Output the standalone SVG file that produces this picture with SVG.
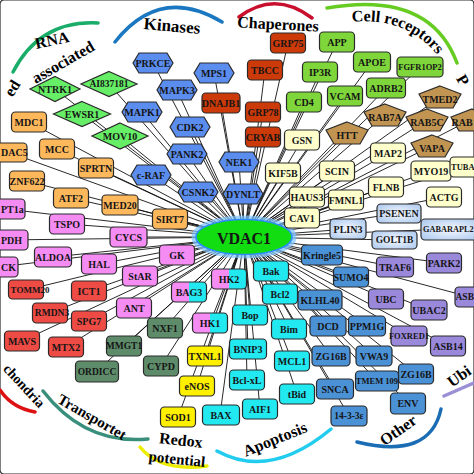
<svg xmlns="http://www.w3.org/2000/svg" xmlns:xlink="http://www.w3.org/1999/xlink" width="474" height="474" viewBox="0 0 474 474">
<style>
text{font-family:"Liberation Serif","Times New Roman",serif;font-weight:bold;font-size:10px;text-anchor:middle;dominant-baseline:central;fill:#151515}
.lab{font-size:16px;fill:#000}
.arc{fill:none;stroke-width:3.5;stroke-linecap:round}
rect,use,polygon{stroke:#2a2a2a;stroke-width:1.2}
rect{rx:4px;ry:4px}
.kin{fill:#5b8def}
.chp{fill:#cc3a0a}
.rec{fill:#7ed63a}
.rna{fill:#66ee66}
.org{fill:#fdb85c}
.pnk{fill:#f48cf4}
.red{fill:#ef4b45}
.gry{fill:#5e8c6a}
.yel{fill:#fff000}
.cyn{fill:#22e8f0}
.stl{fill:#4b91d6}
.lav{fill:#9a88db}
.ply{fill:#ffffcc}
.plb{fill:url(#pb)}
.brn{fill:#c19452}
.hlf{fill:url(#pc)}
#edges line{stroke:#111;stroke-width:0.9}
</style>
<defs>
<polygon id="hex" points="-20,0 -14,-10 14,-10 20,0 14,10 -14,10"/>
<polygon id="pent" points="0,-11 21,-3 13,11 -13,11 -21,-3"/>
<radialGradient id="pb" cx="0.5" cy="0.5" r="0.6"><stop offset="0" stop-color="#f6f9ff"/><stop offset="1" stop-color="#b3cdf0"/></radialGradient>
<linearGradient id="pc" x1="0" y1="0" x2="1" y2="0"><stop offset="0.5" stop-color="#f48cf4"/><stop offset="0.5" stop-color="#22e8f0"/></linearGradient>
<path id="pCR" d="M352,22 Q 412,16 444,64"/>
</defs>
<rect x="0" y="0" width="474" height="474" fill="#fff" stroke="none" rx="0" ry="0"/>

<g id="arcs">
<path class="arc" stroke="#1aad6a" d="M13,72 Q 40,20 98,23"/>
<path class="arc" stroke="#1b78c0" d="M115,42 Q 160,-15 222,22"/>
<path class="arc" stroke="#c8102e" d="M239,17 Q 275,-10 312,18"/>
<path class="arc" stroke="#66cc22" d="M327,8 Q 430,-10 457,63"/>
<path class="arc" stroke="#9b8fd6" d="M444,396 Q 460,389 476,382"/>
<path class="arc" stroke="#1a6db5" d="M357,442 Q 430,460 441,409"/>
<path class="arc" stroke="#22ccee" d="M217,451 Q 270,480 331,429"/>
<path class="arc" stroke="#eeee00" d="M140,447 Q 160,472 207,466"/>
<path class="arc" stroke="#3a8f7c" d="M43,391 Q 85,445 148,439"/>
<path class="arc" stroke="#dd1111" d="M0,390 Q 12,408 35,412"/>
</g>
<g id="labels">
<text class="lab" x="12" y="88" transform="rotate(-58 12 88)">ed</text>
<text class="lab" x="52" y="40" transform="rotate(-12 52 40)">RNA</text>
<text class="lab" x="63" y="62" transform="rotate(-30 63 62)">associated</text>
<text class="lab" x="172" y="26" style="font-size:17px" transform="rotate(5 172 26)">Kinases</text>
<text class="lab" x="278" y="24" transform="rotate(3 278 24)">Chaperones</text>
<text class="lab" style="dominant-baseline:auto;text-anchor:start"><textPath href="#pCR" xlink:href="#pCR">Cell receptors</textPath></text>
<text class="lab" x="463" y="80" transform="rotate(60 463 80)">P</text>
<text class="lab" x="459" y="376" transform="rotate(-35 459 376)">Ubi</text>
<text class="lab" x="398" y="430" transform="rotate(-35 398 430)">Other</text>
<text class="lab" x="275" y="439" transform="rotate(-22 275 439)">Apoptosis</text>
<text class="lab" x="181" y="440" transform="rotate(6 181 440)">Redox</text>
<text class="lab" x="177" y="459" style="font-size:15px" transform="rotate(6 177 459)">potential</text>
<text class="lab" x="92" y="417" style="font-size:15px" transform="rotate(30 92 417)">Transportet</text>
<text class="lab" x="24" y="386" style="font-size:14px" transform="rotate(47 24 386)">chondria</text>
</g>

<g id="edges">
<line x1="153" y1="63" x2="244" y2="237"/><line x1="214" y1="73" x2="244" y2="237"/><line x1="177" y1="90" x2="244" y2="237"/><line x1="142" y1="112" x2="244" y2="237"/><line x1="190" y1="127" x2="244" y2="237"/><line x1="187" y1="154" x2="244" y2="237"/><line x1="151" y1="175" x2="244" y2="237"/><line x1="239" y1="162" x2="244" y2="237"/><line x1="198" y1="192" x2="244" y2="237"/><line x1="243" y1="194" x2="244" y2="237"/>
<line x1="288" y1="43" x2="244" y2="237"/><line x1="265" y1="70" x2="244" y2="237"/><line x1="221" y1="103" x2="244" y2="237"/><line x1="263" y1="112" x2="244" y2="237"/><line x1="263" y1="137" x2="244" y2="237"/>
<line x1="337" y1="42" x2="244" y2="237"/><line x1="320" y1="72" x2="244" y2="237"/><line x1="372" y1="62" x2="244" y2="237"/><line x1="420" y1="67" x2="244" y2="237"/><line x1="386" y1="88" x2="244" y2="237"/><line x1="345" y1="96" x2="244" y2="237"/><line x1="304" y1="102" x2="244" y2="237"/>
<line x1="347" y1="133" x2="244" y2="237"/><line x1="385" y1="115" x2="244" y2="237"/><line x1="427" y1="120" x2="244" y2="237"/><line x1="440" y1="97" x2="244" y2="237"/><line x1="470" y1="120" x2="244" y2="237"/><line x1="432" y1="146" x2="244" y2="237"/>
<line x1="302" y1="140" x2="244" y2="237"/><line x1="283" y1="173" x2="244" y2="237"/><line x1="307" y1="197" x2="244" y2="237"/><line x1="302" y1="218" x2="244" y2="237"/><line x1="337" y1="171" x2="244" y2="237"/><line x1="388" y1="153" x2="244" y2="237"/><line x1="346" y1="200" x2="244" y2="237"/><line x1="386" y1="187" x2="244" y2="237"/><line x1="431" y1="171" x2="244" y2="237"/><line x1="444" y1="197" x2="244" y2="237"/><line x1="465" y1="167" x2="244" y2="237"/>
<line x1="399" y1="213" x2="244" y2="237"/><line x1="348" y1="229" x2="244" y2="237"/><line x1="394" y1="240" x2="244" y2="237"/><line x1="450" y1="229" x2="244" y2="237"/>
<line x1="322" y1="255" x2="244" y2="237"/><line x1="351" y1="277" x2="244" y2="237"/><line x1="320" y1="300" x2="244" y2="237"/><line x1="328" y1="326" x2="244" y2="237"/><line x1="367" y1="326" x2="244" y2="237"/><line x1="331" y1="356" x2="244" y2="237"/><line x1="374" y1="356" x2="244" y2="237"/><line x1="416" y1="374" x2="244" y2="237"/><line x1="377" y1="381" x2="244" y2="237"/><line x1="335" y1="389" x2="244" y2="237"/><line x1="408" y1="403" x2="244" y2="237"/><line x1="349" y1="416" x2="244" y2="237"/>
<line x1="395" y1="267" x2="244" y2="237"/><line x1="444" y1="263" x2="244" y2="237"/><line x1="386" y1="299" x2="244" y2="237"/><line x1="429" y1="310" x2="244" y2="237"/><line x1="470" y1="297" x2="244" y2="237"/><line x1="409" y1="336" x2="244" y2="237"/><line x1="448" y1="346" x2="244" y2="237"/>
<line x1="29" y1="122" x2="244" y2="237"/><line x1="57" y1="149" x2="244" y2="237"/><line x1="8" y1="152" x2="244" y2="237"/><line x1="96" y1="168" x2="244" y2="237"/><line x1="27" y1="181" x2="244" y2="237"/><line x1="71" y1="198" x2="244" y2="237"/><line x1="120" y1="205" x2="244" y2="237"/><line x1="170" y1="219" x2="244" y2="237"/>
<line x1="55" y1="89" x2="244" y2="237"/><line x1="109" y1="84" x2="244" y2="237"/><line x1="82" y1="114" x2="244" y2="237"/><line x1="120" y1="136" x2="244" y2="237"/>
<line x1="6" y1="209" x2="244" y2="237"/><line x1="67" y1="224" x2="244" y2="237"/><line x1="3" y1="240" x2="244" y2="237"/><line x1="128" y1="237" x2="244" y2="237"/><line x1="53" y1="257" x2="244" y2="237"/><line x1="99" y1="264" x2="244" y2="237"/><line x1="-1" y1="267" x2="244" y2="237"/><line x1="177" y1="255" x2="244" y2="237"/><line x1="140" y1="276" x2="244" y2="237"/><line x1="134" y1="308" x2="244" y2="237"/>
<line x1="26" y1="290" x2="244" y2="237"/><line x1="89" y1="291" x2="244" y2="237"/><line x1="50" y1="313" x2="244" y2="237"/><line x1="89" y1="321" x2="244" y2="237"/><line x1="22" y1="341" x2="244" y2="237"/><line x1="66" y1="347" x2="244" y2="237"/>
<line x1="165" y1="328" x2="244" y2="237"/><line x1="124" y1="346" x2="244" y2="237"/><line x1="97" y1="371" x2="244" y2="237"/><line x1="161" y1="366" x2="244" y2="237"/>
<line x1="205" y1="356" x2="244" y2="237"/><line x1="197" y1="386" x2="244" y2="237"/><line x1="178" y1="417" x2="244" y2="237"/>
<line x1="271" y1="271" x2="244" y2="237"/><line x1="280" y1="294" x2="244" y2="237"/><line x1="250" y1="315" x2="244" y2="237"/><line x1="289" y1="329" x2="244" y2="237"/><line x1="248" y1="349" x2="244" y2="237"/><line x1="292" y1="361" x2="244" y2="237"/><line x1="247" y1="380" x2="244" y2="237"/><line x1="297" y1="394" x2="244" y2="237"/><line x1="260" y1="409" x2="244" y2="237"/><line x1="220" y1="415" x2="244" y2="237"/>
<line x1="229" y1="279" x2="244" y2="237"/><line x1="189" y1="292" x2="244" y2="237"/><line x1="210" y1="323" x2="244" y2="237"/>
</g>

<g id="VDAC1">
<ellipse cx="244" cy="237" rx="50" ry="19" fill="none" stroke="#7fc4ff" stroke-width="5" opacity="0.7"/>
<ellipse cx="244" cy="237" rx="48" ry="17.5" fill="#11dd11" stroke="#2a8cff" stroke-width="1.5"/>
<text x="244" y="238" style="font-size:16px">VDAC1</text>
</g>

<!-- Kinases -->
<g id="PRKCE"><use href="#hex" x="153" y="63" class="kin"/><text x="153" y="63">PRKCE</text></g>
<g id="MPS1"><use href="#hex" x="214" y="73" class="kin"/><text x="214" y="73">MPS1</text></g>
<g id="MAPK3"><use href="#hex" x="177" y="90" class="kin"/><text x="177" y="90">MAPK3</text></g>
<g id="MAPK1"><use href="#hex" x="142" y="112" class="kin"/><text x="142" y="112">MAPK1</text></g>
<g id="CDK2"><use href="#hex" x="190" y="127" class="kin"/><text x="190" y="127">CDK2</text></g>
<g id="PANK2"><use href="#hex" x="187" y="154" class="kin"/><text x="187" y="154">PANK2</text></g>
<g id="c-RAF"><use href="#hex" x="151" y="175" class="kin"/><text x="151" y="175">c-RAF</text></g>
<g id="NEK1"><use href="#hex" x="239" y="162" class="kin"/><text x="239" y="162">NEK1</text></g>
<g id="CSNK2"><use href="#hex" x="198" y="192" class="kin"/><text x="198" y="192">CSNK2</text></g>
<g id="DYNLT"><use href="#hex" x="243" y="194" class="kin"/><text x="243" y="194">DYNLT</text></g>

<!-- Chaperones -->
<g id="GRP75"><rect class="chp" x="270.5" y="33" width="35" height="20"/><text x="288" y="43">GRP75</text></g>
<g id="TBCC"><rect class="chp" x="247.5" y="60" width="35" height="20"/><text x="265" y="70">TBCC</text></g>
<g id="DNAJB1"><rect class="chp" x="202" y="93" width="38" height="20"/><text x="221" y="103">DNAJB1</text></g>
<g id="GRP78"><rect class="chp" x="245.5" y="102" width="35" height="20"/><text x="263" y="112">GRP78</text></g>
<g id="CRYAB"><rect class="chp" x="245.5" y="127" width="35" height="20"/><text x="263" y="137">CRYAB</text></g>

<!-- Cell receptors -->
<g id="APP"><rect class="rec" x="319.5" y="32" width="35" height="20"/><text x="337" y="42">APP</text></g>
<g id="IP3R"><rect class="rec" x="302.5" y="62" width="35" height="20"/><text x="320" y="72">IP3R</text></g>
<g id="APOE"><rect class="rec" x="353.5" y="52" width="37" height="20"/><text x="372" y="62">APOE</text></g>
<g id="FGFR1OP2"><rect class="rec" x="397" y="57" width="46" height="20"/><text x="420" y="67" style="font-size:8.5px">FGFR1OP2</text></g>
<g id="ADRB2"><rect class="rec" x="366.5" y="78" width="39" height="20"/><text x="386" y="88">ADRB2</text></g>
<g id="VCAM"><rect class="rec" x="327.5" y="86" width="35" height="20"/><text x="345" y="96">VCAM</text></g>
<g id="CD4"><rect class="rec" x="286.5" y="92" width="35" height="20"/><text x="304" y="102">CD4</text></g>

<!-- Trafficking pentagons -->
<g id="HTT"><use href="#pent" x="347" y="133" class="brn"/><text x="347" y="135">HTT</text></g>
<g id="RAB7A"><use href="#pent" x="385" y="115" class="brn"/><text x="385" y="117">RAB7A</text></g>
<g id="RAB5C"><use href="#pent" x="427" y="120" class="brn"/><text x="427" y="122">RAB5C</text></g>
<g id="TMED2"><use href="#pent" x="440" y="97" class="brn"/><text x="440" y="99">TMED2</text></g>
<g id="RAB"><use href="#pent" x="472" y="120" class="brn"/><text x="462" y="122">RAB</text></g>
<g id="VAPA"><use href="#pent" x="432" y="146" class="brn"/><text x="432" y="148">VAPA</text></g>

<!-- Cytoskeleton pale yellow -->
<g id="GSN"><rect class="ply" x="284.5" y="130" width="35" height="20"/><text x="302" y="140">GSN</text></g>
<g id="KIF5B"><rect class="ply" x="265.5" y="163" width="35" height="20"/><text x="283" y="173">KIF5B</text></g>
<g id="HAUS3"><rect class="ply" x="289.5" y="187" width="35" height="20"/><text x="307" y="197">HAUS3</text></g>
<g id="CAV1"><rect class="ply" x="284.5" y="208" width="35" height="20"/><text x="302" y="218">CAV1</text></g>
<g id="SCIN"><rect class="ply" x="319.5" y="161" width="35" height="20"/><text x="337" y="171">SCIN</text></g>
<g id="MAP2"><rect class="ply" x="370.5" y="143" width="35" height="20"/><text x="388" y="153">MAP2</text></g>
<g id="FMNL1"><rect class="ply" x="328.5" y="190" width="35" height="20"/><text x="346" y="200">FMNL1</text></g>
<g id="FLNB"><rect class="ply" x="368.5" y="177" width="35" height="20"/><text x="386" y="187">FLNB</text></g>
<g id="MYO19"><rect class="ply" x="411" y="161" width="40" height="20"/><text x="431" y="171">MYO19</text></g>
<g id="ACTG"><rect class="ply" x="426.5" y="187" width="35" height="20"/><text x="444" y="197">ACTG</text></g>
<g id="TUBA"><rect class="ply" x="450" y="157" width="40" height="20"/><text x="451" y="167" style="text-anchor:start;font-size:8.5px">TUBA</text></g>

<!-- pale blue -->
<g id="PSENEN"><rect class="plb" x="377" y="204" width="44" height="19"/><text x="399" y="213.5">PSENEN</text></g>
<g id="PLIN3"><rect class="plb" x="330" y="219" width="36" height="20"/><text x="348" y="229">PLIN3</text></g>
<g id="GOLT1B"><rect class="plb" x="372" y="231" width="45" height="18"/><text x="394.5" y="240" style="font-size:9.5px">GOLT1B</text></g>
<g id="GABARAPL2"><rect class="plb" x="421" y="219" width="60" height="21"/><text x="423" y="229.5" style="font-size:8.3px;text-anchor:start">GABARAPL2</text></g>

<!-- Other steel blue -->
<g id="Kringle5"><rect class="stl" x="301.5" y="245" width="41" height="20"/><text x="322" y="255">Kringle5</text></g>
<g id="SUMO4"><rect class="stl" x="333.5" y="267" width="35" height="20"/><text x="351" y="277">SUMO4</text></g>
<g id="KLHL40"><rect class="stl" x="298" y="290" width="44" height="20"/><text x="320" y="300">KLHL40</text></g>
<g id="DCD"><rect class="stl" x="310" y="316" width="36" height="20"/><text x="328" y="326">DCD</text></g>
<g id="PPM1G"><rect class="stl" x="348.5" y="316" width="37" height="20"/><text x="367" y="326">PPM1G</text></g>
<g id="ZG16B_a"><rect class="stl" x="312" y="346" width="38" height="20"/><text x="331" y="356">ZG16B</text></g>
<g id="VWA9"><rect class="stl" x="356" y="346" width="36" height="20"/><text x="374" y="356">VWA9</text></g>
<g id="ZG16B_b"><rect class="stl" x="398.5" y="364" width="35" height="20"/><text x="416" y="374">ZG16B</text></g>
<g id="TMEM109"><rect class="stl" x="355.5" y="371" width="43" height="20"/><text x="377" y="381" style="font-size:8.5px">TMEM 109</text></g>
<g id="SNCA"><rect class="stl" x="316.5" y="379" width="37" height="20"/><text x="335" y="389">SNCA</text></g>
<g id="ENV"><rect class="stl" x="390.5" y="393" width="35" height="21"/><text x="408" y="403.5">ENV</text></g>
<g id="n14-3-3e"><rect class="stl" x="331" y="406" width="36" height="20"/><text x="349" y="416" style="font-size:9.5px">14-3-3ε</text></g>

<!-- Ubiquitination lavender -->
<g id="TRAF6"><rect class="lav" x="376.5" y="257" width="37" height="20"/><text x="395" y="267">TRAF6</text></g>
<g id="PARK2"><rect class="lav" x="426.5" y="253" width="35" height="20"/><text x="444" y="263">PARK2</text></g>
<g id="UBC"><rect class="lav" x="368.5" y="289" width="35" height="20"/><text x="386" y="299">UBC</text></g>
<g id="UBAC2"><rect class="lav" x="411" y="300" width="36" height="20"/><text x="429" y="310">UBAC2</text></g>
<g id="ASB"><rect class="lav" x="455" y="287" width="40" height="20"/><text x="455.5" y="297" style="text-anchor:start;font-size:9.5px">ASB</text></g>
<g id="FOXRED1"><rect class="lav" x="391" y="326" width="36" height="20"/><text x="409" y="336" style="font-size:8.5px">FOXRED1</text></g>
<g id="ASB14"><rect class="lav" x="430.5" y="336" width="35" height="20"/><text x="448" y="346">ASB14</text></g>

<!-- Orange -->
<g id="MDC1"><rect class="org" x="11.5" y="112" width="35" height="20"/><text x="29" y="122">MDC1</text></g>
<g id="MCC"><rect class="org" x="39.5" y="139" width="35" height="20"/><text x="57" y="149">MCC</text></g>
<g id="HDAC5"><rect class="org" x="-12" y="143" width="39" height="19"/><text x="1" y="152.5" style="text-anchor:start">DAC5</text></g>
<g id="SPRTN"><rect class="org" x="78.5" y="158" width="35" height="20"/><text x="96" y="168">SPRTN</text></g>
<g id="ZNF622"><rect class="org" x="9.5" y="171" width="35" height="20"/><text x="27" y="181">ZNF622</text></g>
<g id="ATF2"><rect class="org" x="53.5" y="188" width="35" height="20"/><text x="71" y="198">ATF2</text></g>
<g id="MED20"><rect class="org" x="102" y="195" width="36" height="20"/><text x="120" y="205">MED20</text></g>
<g id="SIRT7"><rect class="org" x="152.5" y="209" width="35" height="20"/><text x="170" y="219">SIRT7</text></g>

<!-- RNA associated diamonds -->
<g id="NTRK1"><polygon class="rna" points="55,76.5 80,89 55,101.5 30,89"/><text x="55" y="89">NTRK1</text></g>
<g id="AI837181"><polygon class="rna" points="109,71.5 137,84 109,96.5 81,84"/><text x="109" y="84" style="font-size:9.5px">AI837181</text></g>
<g id="EWSR1"><polygon class="rna" points="82,101.5 110.5,114 82,126.5 53.5,114"/><text x="82" y="114">EWSR1</text></g>
<g id="MOV10"><polygon class="rna" points="120,123 148,136 120,149 92,136"/><text x="120" y="136">MOV10</text></g>

<!-- Pink -->
<g id="CPT1a"><rect class="pnk" x="-12" y="199" width="37" height="20"/><text x="1" y="209" style="text-anchor:start">PT1a</text></g>
<g id="TSPO"><rect class="pnk" x="49.5" y="214" width="35" height="20"/><text x="67" y="224">TSPO</text></g>
<g id="GAPDH"><rect class="pnk" x="-22" y="230" width="50" height="20"/><text x="1" y="240" style="text-anchor:start">PDH</text></g>
<g id="CYCS"><rect class="pnk" x="110" y="227" width="37" height="20"/><text x="128.5" y="237">CYCS</text></g>
<g id="ALDOA"><rect class="pnk" x="34.5" y="247" width="37" height="20"/><text x="53" y="257">ALDOA</text></g>
<g id="HAL"><rect class="pnk" x="81.5" y="254" width="35" height="20"/><text x="99" y="264">HAL</text></g>
<g id="MtCK"><rect class="pnk" x="-20" y="257" width="38" height="20"/><text x="1" y="267" style="text-anchor:start">CK</text></g>
<g id="GK"><rect class="pnk" x="159.5" y="245" width="35" height="20"/><text x="177" y="255">GK</text></g>
<g id="StAR"><rect class="pnk" x="122.5" y="266" width="35" height="20"/><text x="140" y="276">StAR</text></g>
<g id="ANT"><rect class="pnk" x="116.5" y="298" width="35" height="20"/><text x="134" y="308">ANT</text></g>

<!-- Mitochondria red -->
<g id="TOMM20"><rect class="red" x="8.5" y="280" width="35" height="19"/><text x="30" y="289.5" style="font-size:9px">TOMM20</text></g>
<g id="ICT1"><rect class="red" x="71.5" y="281" width="35" height="20"/><text x="89" y="291">ICT1</text></g>
<g id="RMDN3"><rect class="red" x="32.5" y="303" width="35" height="20"/><text x="52" y="313" style="font-size:9.5px">RMDN3</text></g>
<g id="SPG7"><rect class="red" x="71.5" y="311" width="35" height="20"/><text x="89" y="321">SPG7</text></g>
<g id="MAVS"><rect class="red" x="4.5" y="331" width="35" height="20"/><text x="22" y="341">MAVS</text></g>
<g id="MTX2"><rect class="red" x="48.5" y="337" width="35" height="20"/><text x="66" y="347">MTX2</text></g>

<!-- Transporters grey green -->
<g id="NXF1"><rect class="gry" x="147.5" y="318" width="35" height="20"/><text x="165" y="328">NXF1</text></g>
<g id="MMGT1"><rect class="gry" x="106.5" y="336" width="35" height="20"/><text x="124" y="346" style="font-size:9.5px">MMGT1</text></g>
<g id="ORDICC"><rect class="gry" x="75.5" y="361" width="43" height="21"/><text x="97" y="371.5" style="font-size:9.5px">ORDICC</text></g>
<g id="CYPD"><rect class="gry" x="143.5" y="356" width="35" height="20"/><text x="161" y="366">CYPD</text></g>

<!-- Redox yellow -->
<g id="TXNL1"><rect class="yel" x="187.5" y="346" width="35" height="20"/><text x="205" y="356">TXNL1</text></g>
<g id="eNOS"><rect class="yel" x="179.5" y="376" width="35" height="20"/><text x="197" y="386">eNOS</text></g>
<g id="SOD1"><rect class="yel" x="160.5" y="407" width="35" height="20"/><text x="178" y="417">SOD1</text></g>

<!-- Apoptosis cyan -->
<g id="Bak"><rect class="cyn" x="253.5" y="261" width="35" height="20"/><text x="271" y="271">Bak</text></g>
<g id="Bcl2"><rect class="cyn" x="262.5" y="284" width="35" height="20"/><text x="280" y="294">Bcl2</text></g>
<g id="Bop"><rect class="cyn" x="232.5" y="305" width="35" height="20"/><text x="250" y="315">Bop</text></g>
<g id="Bim"><rect class="cyn" x="271.5" y="319" width="35" height="20"/><text x="289" y="329">Bim</text></g>
<g id="BNIP3"><rect class="cyn" x="229.5" y="339" width="37" height="20"/><text x="248" y="349">BNIP3</text></g>
<g id="MCL1"><rect class="cyn" x="274.5" y="351" width="35" height="20"/><text x="292" y="361">MCL1</text></g>
<g id="Bcl-xL"><rect class="cyn" x="229.5" y="370" width="35" height="20"/><text x="247" y="380">Bcl-xL</text></g>
<g id="tBid"><rect class="cyn" x="279.5" y="384" width="35" height="20"/><text x="297" y="394">tBid</text></g>
<g id="AIF1"><rect class="cyn" x="242.5" y="399" width="35" height="20"/><text x="260" y="409">AIF1</text></g>
<g id="BAX"><rect class="cyn" x="202.5" y="405" width="37" height="20"/><text x="221" y="415">BAX</text></g>

<!-- Mixed pink / cyan -->
<g id="HK2"><rect class="hlf" x="211.5" y="269" width="35" height="20"/><text x="229" y="279">HK2</text></g>
<g id="BAG3"><rect class="hlf" x="171.5" y="282" width="35" height="20"/><text x="189" y="292">BAG3</text></g>
<g id="HK1"><rect class="hlf" x="192.5" y="313" width="35" height="20"/><text x="210" y="323">HK1</text></g>
</svg>
